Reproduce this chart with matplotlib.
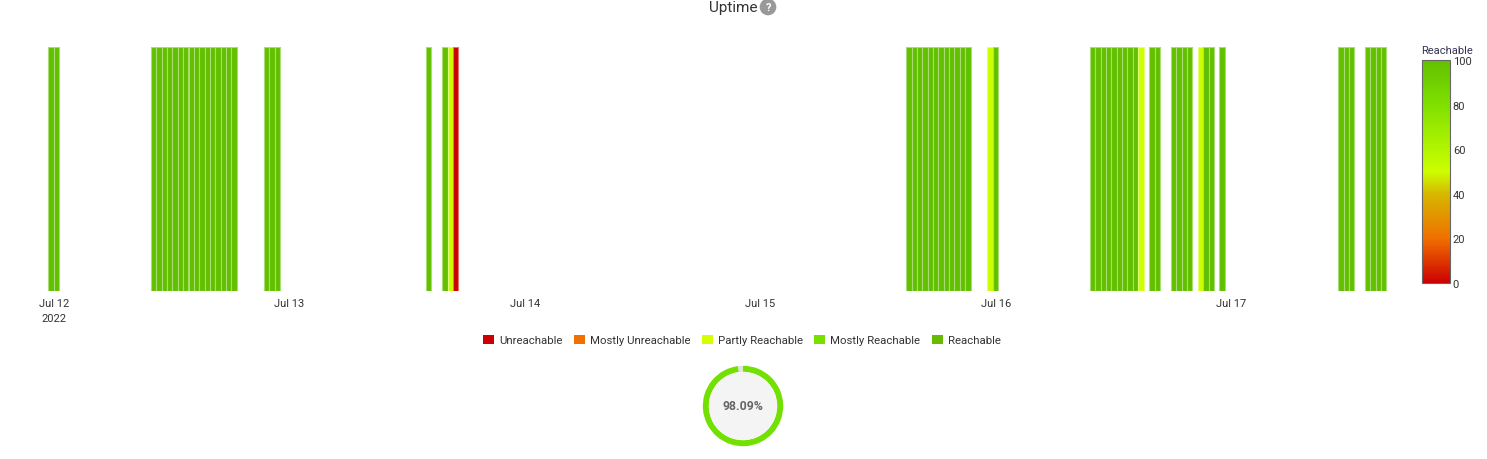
import matplotlib
matplotlib.use("Agg")
import matplotlib.pyplot as plt
import matplotlib.colors as mcolors
from matplotlib.cm import ScalarMappable
from matplotlib.patches import Circle, Patch
import numpy as np

plt.rcParams["font.family"] = ["Roboto", "DejaVu Sans"]

# bar centres, hours since Jul 12 2022 00:00, and reachability in %
check_hours = [
    -0.31, 0.23,
    10.16, 10.71, 11.25, 11.80, 12.34, 12.89, 13.43, 13.98,
    14.52, 15.07, 15.61, 16.16, 16.70, 17.25, 17.79, 18.34,
    21.68, 22.22, 22.77,
    38.19, 39.85, 40.39, 40.94,
    87.13, 87.68, 88.22, 88.77, 89.31, 89.86, 90.41, 90.95,
    91.50, 92.04, 92.59, 93.13,
    95.39, 95.93,
    105.85, 106.40, 106.94, 107.49, 108.04, 108.58, 109.13, 109.67,
    110.22, 110.76,
    111.90, 112.44,
    114.11, 114.65, 115.20, 115.74,
    116.86, 117.40, 117.95,
    119.03,
    131.16, 131.70, 132.25,
    133.88, 134.42, 134.97, 135.51,
]
reachable = [
    100, 100,
    100, 100, 100, 100, 100, 100, 100, 100,
    100, 100, 100, 100, 100, 100, 100, 100,
    100, 100, 100,
    100, 100, 50, 0,
    100, 100, 100, 100, 100, 100, 100, 100,
    100, 100, 100, 100,
    50, 100,
    100, 100, 100, 100, 100, 100, 100, 100,
    100, 50,
    100, 100,
    100, 100, 100, 100,
    50, 100, 100,
    100,
    100, 100, 100,
    100, 100, 100, 100,
]
day_hours = [0, 24, 48, 72, 96, 120]
day_labels = ["Jul 12\n2022", "Jul 13", "Jul 14", "Jul 15", "Jul 16", "Jul 17"]

legend_labels = ["Unreachable", "Mostly Unreachable", "Partly Reachable",
                 "Mostly Reachable", "Reachable"]
legend_colors = ["#cc0000", "#f07000", "#d4ff00", "#77e000", "#66bb00"]

uptime_pct = 98.09

W, H = 1487, 460
fig = plt.figure(figsize=(W / 100, H / 100), dpi=100)


def px_axes(x0, y0, x1, y1):
    return fig.add_axes([x0 / W, 1 - y1 / H, (x1 - x0) / W, (y1 - y0) / H])


cmap = mcolors.LinearSegmentedColormap.from_list(
    "reach",
    [(0.0, "#cc0000"), (0.2, "#f07000"), (0.4, "#d6b800"),
     (0.5, "#ccff00"), (0.8, "#80e000"), (1.0, "#62c000")])
norm = mcolors.Normalize(0, 100)

# heat strip
ax = px_axes(20, 48, 1400, 292)
fill = [cmap(norm(v)) for v in reachable]
edge = [tuple(0.55 * np.array(c[:3]) + 0.45) for c in fill]
ax.bar(check_hours, 1, width=0.545, bottom=0, color=fill,
       edgecolor=edge, linewidth=0.8)
ax.set_xlim(-3.465, 137.17)
ax.set_ylim(0, 1)
ax.set_yticks([])
ax.set_xticks(day_hours)
ax.set_xticklabels(day_labels, fontsize=8, color="#333333", linespacing=1.6)
ax.tick_params(axis="x", length=0, pad=5)
for s in ax.spines.values():
    s.set_visible(False)

fig.text(733 / W, 1 - 8 / H, "Uptime", ha="center", va="center",
         fontsize=11, color="#333333")
fig.text(768 / W, 1 - 8 / H, "?", ha="center", va="center", fontsize=8,
         fontweight="bold", color="white",
         bbox=dict(boxstyle="circle,pad=0.3", fc="#999999", ec="none"))

# colour scale
cax = px_axes(1422, 61, 1450, 284)
cb = fig.colorbar(ScalarMappable(norm=norm, cmap=cmap), cax=cax,
                  ticks=[0, 20, 40, 60, 80, 100])
cb.outline.set_edgecolor("#666666")
cb.outline.set_linewidth(0.8)
cax.tick_params(length=0, pad=2, labelsize=8, labelcolor="#333333")
fig.text(1447 / W, 1 - 51 / H, "Reachable", ha="center", va="center",
         fontsize=8, color="#333355")

# legend
handles = [Patch(facecolor=c, edgecolor="none") for c in legend_colors]
fig.legend(handles, legend_labels, loc="center", ncol=5,
           bbox_to_anchor=(742 / W, 1 - 341 / H), frameon=False,
           fontsize=8.2, handlelength=0.95, handleheight=0.95,
           handletextpad=0.45, columnspacing=1.0, labelcolor="#333333")

# overall uptime donut
dax = px_axes(702, 366, 784, 448)
dax.pie([uptime_pct, 100 - uptime_pct], colors=["#72e000", "#e2e2e2"],
        startangle=90, counterclock=False, radius=1,
        wedgeprops=dict(width=0.15, edgecolor="none"))
dax.add_patch(Circle((0, 0), 0.85, facecolor="#f4f4f4", edgecolor="none"))
dax.text(0, 0, f"{uptime_pct:.2f}%", ha="center", va="center",
         fontsize=8.8, fontweight="bold", color="#666666")
dax.set_xlim(-1.02, 1.02)
dax.set_ylim(-1.02, 1.02)

fig.savefig("out.png", dpi=100, facecolor="white")
